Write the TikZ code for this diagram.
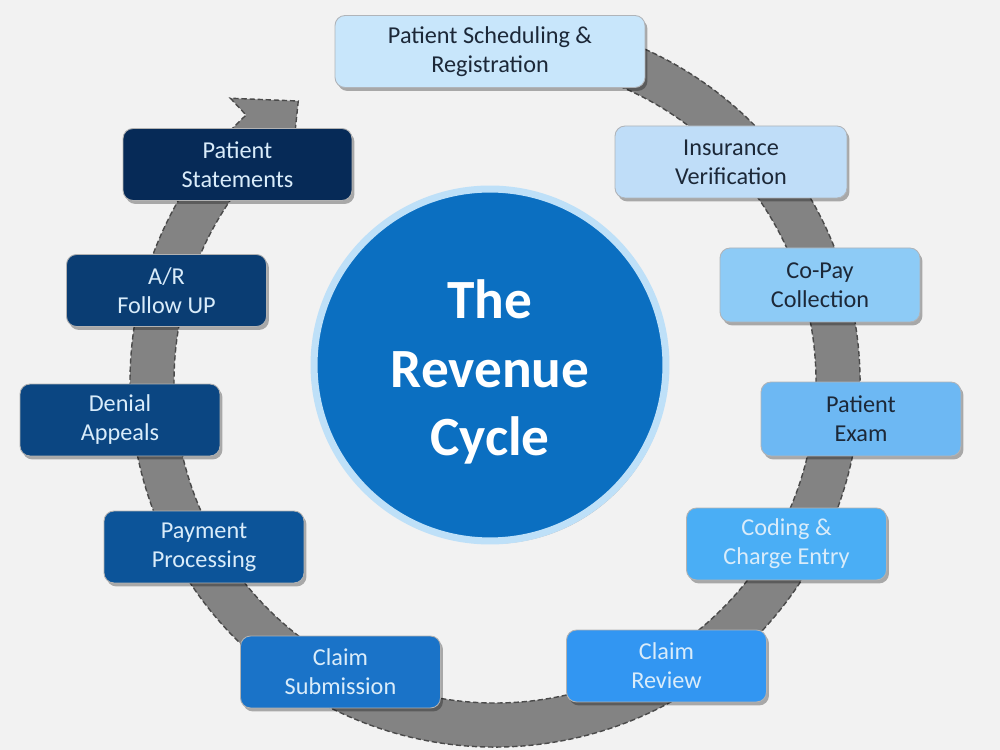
\documentclass[tikz,border=0pt]{standalone}
\usepackage{fontspec}
\setmainfont{Carlito}
\usetikzlibrary{positioning,shadows}
\definecolor{rcPaper}{HTML}{F2F2F2}
\definecolor{rcInk}{HTML}{1C2838}
\definecolor{rcPale}{HTML}{D9ECFA}
\definecolor{rcRing}{HTML}{838383}
\definecolor{rcRingEdge}{HTML}{4A4A4A}
\definecolor{rcHub}{HTML}{0B6FC1}
\definecolor{rcHubRim}{HTML}{BEE0F8}
\definecolor{rcA}{HTML}{C8E6FB}
\definecolor{rcB}{HTML}{BFDDF8}
\definecolor{rcC}{HTML}{8DCBF6}
\definecolor{rcD}{HTML}{6DB8F3}
\definecolor{rcE}{HTML}{4AAEF5}
\definecolor{rcF}{HTML}{3296F2}
\definecolor{rcG}{HTML}{1A73C8}
\definecolor{rcH}{HTML}{0C5499}
\definecolor{rcI}{HTML}{0B4682}
\definecolor{rcJ}{HTML}{0A3D73}
\definecolor{rcK}{HTML}{062A57}
\tikzset{
  box/.style      ={rounded corners=2mm,line width=0.5pt,align=center,
                    minimum width=40mm,minimum height=14.4mm,inner sep=2pt,
                    font=\fontsize{13.8}{16.5}\selectfont,
                    drop shadow={shadow xshift=0.5mm,shadow yshift=-0.7mm,
                                 opacity=0.3,fill=black}},
  lightbox/.style ={box,text=rcInk,draw=rcInk!35},
  darkbox/.style  ={box,text=rcPale,draw=black!30},
  hub/.style      ={circle,fill=rcHub,draw=rcHubRim,line width=4pt,
                    minimum size=70.4mm,
                    drop shadow={shadow xshift=0.4mm,shadow yshift=-0.6mm,
                                 opacity=0.25,fill=black}},
  hubtext/.style  ={text=white,align=center,
                    font=\bfseries\fontsize{31.5}{39}\selectfont},
  ring/.style     ={fill=rcRing,draw=rcRingEdge,line width=0.8pt,
                    dash pattern=on 3pt off 1.6pt},
}
\begin{document}
\begin{tikzpicture}[x=0.02cm,y=0.02cm]
\fill[rcPaper] (0,0) rectangle (1000,750);
\useasboundingbox (0,0) rectangle (1000,750);

% circular arrow behind the steps
\begin{scope}[shift={(495,368)}]
\draw[ring] (100:365) arc[start angle=100,end angle=-227,radius=365]
  -- (-227:388) -- (-235:343) -- (-227:298) -- (-227:321)
  arc[start angle=-227,end angle=100,radius=321] -- cycle;
\end{scope}

\node[hub] (hub) at (490,385) {};
\node[hubtext] (title) at ([yshift=-1.4mm]hub.center) {The\\Revenue\\Cycle};

\node[lightbox,fill=rcA,minimum width=62mm] (sched) at (490,698.5)
  {Patient Scheduling \&\\Registration};
\node[lightbox,fill=rcB,minimum width=46.4mm] (insur) at (731,588)
  {Insurance\\Verification};
\node[lightbox,fill=rcC,minimum height=14.8mm] (copay) at (820,465)
  {Co-Pay\\Collection};
\node[lightbox,fill=rcD,minimum height=14.8mm] (exam) at (861,331)
  {Patient\\Exam};
\node[darkbox,fill=rcE] (coding) at (786.5,206) {Coding \&\\Charge Entry};
\node[darkbox,fill=rcF] (review) at (666.5,84) {Claim\\Review};
\node[darkbox,fill=rcG] (submit) at (340.5,78) {Claim\\Submission};
\node[darkbox,fill=rcH] (payment) at (204,203) {Payment\\Processing};
\node[darkbox,fill=rcI] (denial) at (120,330) {Denial\\Appeals};
\node[darkbox,fill=rcJ] (arfollow) at (166.5,459.5) {A/R\\Follow UP};
\node[darkbox,fill=rcK,minimum width=45.8mm] (stmts) at (237.5,585.5)
  {Patient\\Statements};
\end{tikzpicture}
\end{document}
